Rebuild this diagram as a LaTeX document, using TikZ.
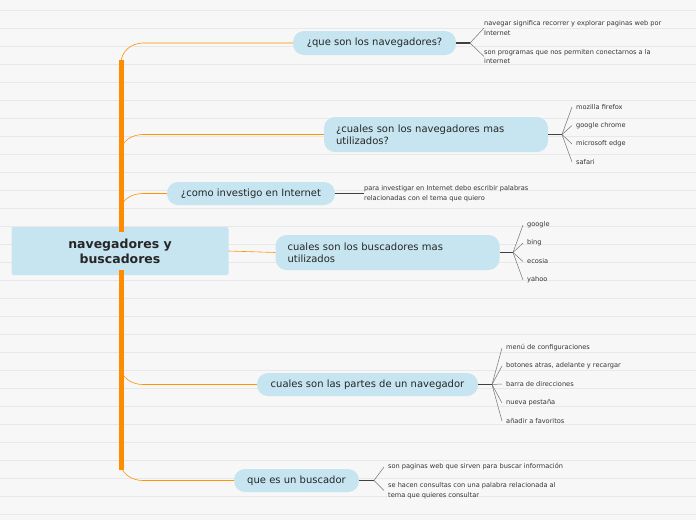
\documentclass[tikz,border=0pt]{standalone}
\usepackage{fontspec}
\setmainfont{DejaVu Sans}
\begin{document}
\begin{tikzpicture}[x=1pt,y=-1pt,
 topic/.style={fill=topicblue,rounded corners=11pt,inner sep=0pt,font=\fontsize{10}{12}\selectfont,text=black!85},
 leaf/.style={anchor=west,inner sep=0pt,font=\fontsize{6.6}{9.5}\selectfont,align=left,text=black!80},
 br/.style={draw=orange!85!yellow,line width=0.6pt},
 fork/.style={draw=black!75,line width=1.6pt},
 twig/.style={draw=black!55,line width=0.5pt}]
\definecolor{topicblue}{HTML}{C6E5F0}
\fill[black!3] (0,0) rectangle (696,520);
\useasboundingbox (0,0) rectangle (696,520);
\foreach \y in {10,28,46,64,82,100,118,136,154,172,190,208,226,244,262,280,298,316,334,352,370,388,406,424,442,460,478,496,514}
 \draw[black!9,line width=0.5pt] (0,\y) -- (696,\y);
% root
\node[fill=topicblue,rounded corners=2pt,minimum width=217pt,minimum height=48pt,align=center,font=\bfseries\fontsize{12.5}{15}\selectfont,text=black!85] (root) at (120,251) {navegadores y\\buscadores};
% topics
\node[topic,minimum width=163pt,minimum height=24pt] (t1) at (374.5,43) {¿que son los navegadores?};
\node[topic,minimum width=224pt,minimum height=35pt,align=left,text width=200pt,inner xsep=12pt] (t2) at (436,134.5) {¿cuales son los navegadores mas\\utilizados?};
\node[topic,minimum width=168pt,minimum height=23pt] (t3) at (251,193.5) {¿como investigo en Internet};
\node[topic,minimum width=223pt,minimum height=35pt,align=left,text width=200pt,inner xsep=12pt] (t4) at (387.5,252.5) {cuales son los buscadores mas\\utilizados};
\node[topic,minimum width=221pt,minimum height=23pt] (t5) at (367.5,384.5) {cuales son las partes de un navegador};
\node[topic,minimum width=125pt,minimum height=23pt] (t6) at (296.5,480.5) {que es un buscador};
% trunk
\draw[draw=orange!90!yellow,line width=5pt] (121,270) -- (121,470);
\draw[draw=orange!90!yellow,line width=5pt] (121,232) -- (121,60);
\draw[br] (t1.west) -- (143,43) to[out=180,in=90] (121,63);
\draw[br] (t2.west) -- (143,134.5) to[out=180,in=90] (121,152);
\draw[br] (t3.west) -- (143,193.5) to[out=180,in=90] (121,210);
\draw[br] (root.east) -- (t4.west);
\draw[br] (t5.west) -- (143,384.5) to[out=180,in=270] (121,367);
\draw[br] (t6.west) -- (143,480.5) to[out=180,in=270] (121,463);
% leaves
\coordinate (f1) at (470,43);
\draw[fork] (t1.east) -- (f1);
\node[leaf] (l11) at (484,28) {navegar significa recorrer y explorar paginas web por\\Internet};
\node[leaf] (l12) at (484,56.5) {son programas que nos permiten conectarnos a la\\internet};
\foreach \n in {l11,l12} \draw[twig] (f1) -- (\n.west);
\coordinate (f2) at (562,134.5);
\draw[fork] (t2.east) -- (f2);
\node[leaf] (l21) at (576,107) {mozilla firefox};
\node[leaf] (l22) at (576,125.5) {google chrome};
\node[leaf] (l23) at (576,144) {microsoft edge};
\node[leaf] (l24) at (576,162) {safari};
\foreach \n in {l21,l22,l23,l24} \draw[twig] (f2) -- ([xshift=-4pt]\n.west);
\node[leaf] (l31) at (364,193.5) {para investigar en Internet debo escribir palabras\\relacionadas con el tema que quiero};
\draw[fork,line width=0.9pt] (t3.east) -- (l31.west);
\coordinate (f4) at (513,252.5);
\draw[fork] (t4.east) -- (f4);
\node[leaf] (l41) at (527,225) {google};
\node[leaf] (l42) at (527,243) {bing};
\node[leaf] (l43) at (527,261.5) {ecosia};
\node[leaf] (l44) at (527,280) {yahoo};
\foreach \n in {l41,l42,l43,l44} \draw[twig] (f4) -- ([xshift=-4pt]\n.west);
\coordinate (f5) at (492,384.5);
\draw[fork] (t5.east) -- (f5);
\node[leaf] (l51) at (506,348) {menú de configuraciones};
\node[leaf] (l52) at (506,366) {botones atras, adelante y recargar};
\node[leaf] (l53) at (506,384) {barra de direcciones};
\node[leaf] (l54) at (506,403) {nueva pestaña};
\node[leaf] (l55) at (506,421) {añadir a favoritos};
\foreach \n in {l51,l52,l53,l54,l55} \draw[twig] (f5) -- ([xshift=-4pt]\n.west);
\coordinate (f6) at (374,480.5);
\draw[fork,line width=1.1pt] (t6.east) -- (f6);
\node[leaf] (l61) at (388,467) {son paginas web que sirven para buscar información};
\node[leaf] (l62) at (388,490.5) {se hacen consultas con una palabra relacionada al\\tema que quieres consultar};
\foreach \n in {l61,l62} \draw[twig] (f6) -- ([xshift=-4pt]\n.west);
\end{tikzpicture}
\end{document}
